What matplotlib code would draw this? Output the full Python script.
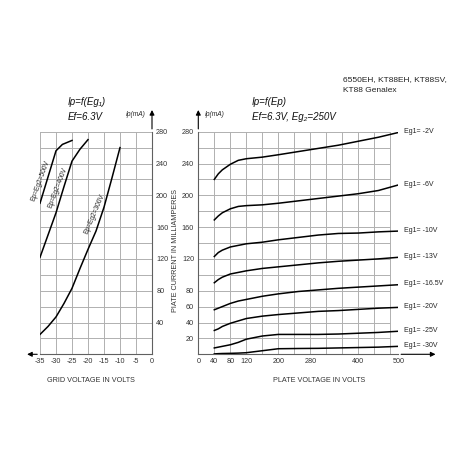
import matplotlib
matplotlib.use("Agg")
import matplotlib.pyplot as plt

plt.rcParams['font.family'] = ['Liberation Sans', 'DejaVu Sans']

# ---------------- data ----------------
# Left chart: Ip = f(Eg1)
grid_volts_ticks = [-35, -30, -25, -20, -15, -10, -5, 0]
left_y_ticks = [40, 80, 120, 160, 200, 240, 280]

ep500_x = [-35, -32.5, -30, -28, -25]
ep500_y = [190, 223, 256, 264, 269]
ep400_x = [-35, -32.5, -30, -27.5, -25, -22.5, -20]
ep400_y = [122, 150, 178, 211, 243, 258, 270]
ep300_x = [-35, -32.5, -30, -27.5, -25, -22.5, -20, -17.5, -15, -12.5, -10]
ep300_y = [25, 35, 47, 64, 83, 108, 132, 155, 185, 222, 260]
left_labels = ["Ep=Eg2=500V", "Ep=Eg2=400V", "Ep=Eg2=300V"]

# Right chart: Ip = f(Ep)
plate_x = [40, 50, 60, 80, 100, 120, 160, 200, 250, 300, 350, 400, 450, 500]
eg_m2 = [220, 227, 232, 239, 244, 246, 248, 251, 255, 259, 263, 268, 273, 279]
eg_m6 = [169, 174, 178, 183, 186, 187, 188, 190, 193, 196, 199, 202, 206, 213]
eg_m10 = [123, 128, 131, 135, 137, 139, 141, 144, 147, 150, 152, 152.5, 154, 155]
eg_m13 = [90, 94, 97, 101, 103, 105, 108, 110, 112.5, 115, 117, 118.5, 120, 122]
eg_m165 = [56, 58, 60, 64, 67, 69, 73, 76, 79, 81, 83, 84.5, 86, 87.5]
eg_m20 = [30, 32, 35, 39, 42, 45, 48, 50, 52, 54, 55, 56.5, 58, 59]
eg_m25 = [8, 9, 10, 12, 15, 19, 23, 25, 25, 25, 25.5, 26.5, 27.5, 29]
eg_m30 = [0.5, 0.8, 1, 1.2, 1.5, 2, 4.5, 7, 7.3, 7.5, 8, 8.5, 9, 10]
right_series = [eg_m2, eg_m6, eg_m10, eg_m13, eg_m165, eg_m20, eg_m25, eg_m30]
right_labels = ["Eg1= -2V", "Eg1= -6V", "Eg1= -10V", "Eg1= -13V",
                "Eg1= -16.5V", "Eg1= -20V", "Eg1= -25V", "Eg1= -30V"]
right_x_ticks = [0, 40, 80, 120, 200, 280, 400, 500]
right_y_ticks = [20, 40, 60, 80, 120, 160, 200, 240, 280]

# ---------------- figure ----------------
W = 474
fig = plt.figure(figsize=(4.74, 4.74), dpi=100)
GRID = '#b0b0b0'
AX = '#606060'
TF = 5.2

def fx(px):
    return px / W

def fy(py):
    return 1 - py / W

bottom = fy(354.3)
height = (354.3 - 131.7) / W

axL = fig.add_axes([fx(40), bottom, 112 / W, height])
axR = fig.add_axes([fx(198.3), bottom, 200 / W, height])

# ---- left axes ----
axL.set_xlim(-35, 0)
axL.set_ylim(0, 280)
for v in range(-35, 0, 5):
    axL.axvline(v, color=GRID, lw=0.7, zorder=1)
for h in range(20, 281, 20):
    axL.axhline(h, color=GRID, lw=0.7, zorder=1)
for s in ['left', 'top']:
    axL.spines[s].set_visible(False)
axL.spines['right'].set_color(AX)
axL.spines['bottom'].set_color(AX)
axL.spines['right'].set_linewidth(0.8)
axL.spines['bottom'].set_linewidth(0.8)
axL.yaxis.tick_right()
axL.set_xticks(grid_volts_ticks)
axL.set_xticklabels([str(t) for t in grid_volts_ticks])
axL.set_yticks(left_y_ticks)
axL.tick_params(length=0, labelsize=TF, colors='#333333', pad=3)

axL.plot(ep500_x, ep500_y, color='black', lw=1.1, zorder=3)
axL.plot(ep400_x, ep400_y, color='black', lw=1.1, zorder=3)
axL.plot(ep300_x, ep300_y, color='black', lw=1.1, zorder=3)

axL.text(-34.8, 219, left_labels[0], rotation=70, fontsize=4.8,
         ha='center', va='center', color='#222222')
axL.text(-29.4, 209, left_labels[1], rotation=69, fontsize=4.8,
         ha='center', va='center', color='#222222')
axL.text(-17.9, 176, left_labels[2], rotation=67, fontsize=4.8,
         ha='center', va='center', color='#222222')

# arrows for left axes
axL.annotate('', xy=(1, 1.11), xytext=(1, 1.0), xycoords='axes fraction',
             arrowprops=dict(arrowstyle='-|>', color='black', lw=0.8,
                             mutation_scale=7), annotation_clip=False)
axL.annotate('', xy=(-0.14, 0), xytext=(0, 0), xycoords='axes fraction',
             arrowprops=dict(arrowstyle='-|>', color='black', lw=0.8,
                             mutation_scale=7), annotation_clip=False)

# ---- right axes ----
axR.set_xlim(0, 500)
axR.set_ylim(0, 280)
for v in range(40, 481, 40):
    axR.axvline(v, color=GRID, lw=0.7, zorder=1)
for h in range(20, 281, 20):
    axR.axhline(h, xmax=480 / 500, color=GRID, lw=0.7, zorder=1)
for s in ['right', 'top']:
    axR.spines[s].set_visible(False)
axR.spines['left'].set_color(AX)
axR.spines['bottom'].set_color(AX)
axR.spines['left'].set_linewidth(0.8)
axR.spines['bottom'].set_linewidth(0.8)
axR.set_xticks(right_x_ticks)
axR.set_yticks(right_y_ticks)
axR.tick_params(length=0, labelsize=TF, colors='#333333', pad=3)

for ser, lab in zip(right_series, right_labels):
    axR.plot(plate_x, ser, color='black', lw=1.1, zorder=3)
    axR.text(514, ser[-1] + 1, lab, fontsize=5.0, ha='left', va='center',
             color='#222222', clip_on=False)

axR.annotate('', xy=(0, 1.11), xytext=(0, 1.0), xycoords='axes fraction',
             arrowprops=dict(arrowstyle='-|>', color='black', lw=0.8,
                             mutation_scale=7), annotation_clip=False)
axR.annotate('', xy=(1.2, 0), xytext=(1.0, 0), xycoords='axes fraction',
             arrowprops=dict(arrowstyle='-|>', color='black', lw=0.8,
                             mutation_scale=7), annotation_clip=False)

# ---- texts ----
fig.text(fx(343), fy(80), "6550EH, KT88EH, KT88SV,", fontsize=6.0,
         ha='left', va='center', color='#222222')
fig.text(fx(343), fy(91), "KT88 Genalex", fontsize=6.0,
         ha='left', va='center', color='#222222')

fig.text(fx(68), fy(102), "Ip=f(Eg\u2081)", fontsize=7, style='italic',
         ha='left', va='center', color='#111111')
fig.text(fx(68), fy(117), "Ef=6.3V", fontsize=7, style='italic',
         ha='left', va='center', color='#111111')
fig.text(fx(252), fy(102), "Ip=f(Ep)", fontsize=7, style='italic',
         ha='left', va='center', color='#111111')
fig.text(fx(252), fy(117), "Ef=6.3V, Eg\u2082=250V", fontsize=7, style='italic',
         ha='left', va='center', color='#111111')

fig.text(fx(146), fy(115), "Ip(mA)", fontsize=4.8, style='italic',
         ha='right', va='center', color='#222222')
fig.text(fx(205), fy(115), "Ip(mA)", fontsize=4.8, style='italic',
         ha='left', va='center', color='#222222')

fig.text(fx(90.5), fy(380), "GRID VOLTAGE IN VOLTS", fontsize=5.2,
         ha='center', va='center', color='#333333')
fig.text(fx(319), fy(380), "PLATE VOLTAGE IN VOLTS", fontsize=5.2,
         ha='center', va='center', color='#333333')
fig.text(fx(175.7), fy(251), "PIATE CURRENT IN MILLIAMPERES", fontsize=5.2,
         rotation=90, ha='center', va='center', color='#333333')

fig.savefig("out.png", dpi=100)
